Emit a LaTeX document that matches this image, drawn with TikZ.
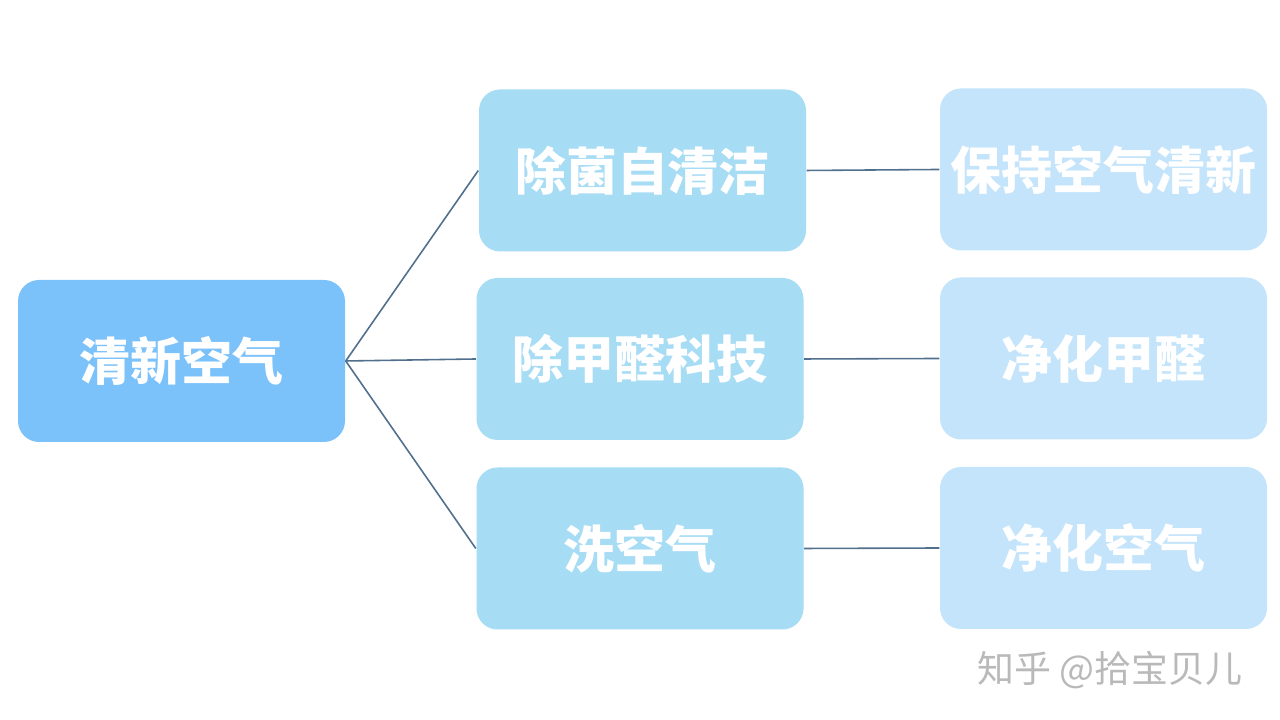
\documentclass[tikz,border=0pt]{standalone}
\usepackage{fontspec}
\newfontfamily\cjk{Noto Sans CJK SC}
\definecolor{rootblue}{RGB}{123, 193, 250}
\definecolor{midblue}{RGB}{167, 220, 245}
\definecolor{leafblue}{RGB}{195, 228, 250}
\definecolor{linkgray}{RGB}{80, 112, 142}
\definecolor{markgray}{RGB}{185, 185, 185}
\usetikzlibrary{positioning}

\begin{document}
\begin{tikzpicture}[
  tbox/.style={rounded corners=6pt, minimum width=3.27cm, minimum height=1.62cm, inner sep=0pt, align=center, text=white, font=\cjk\bfseries\fontsize{14.5}{16}\selectfont},
  rootbox/.style={tbox, fill=rootblue},
  midbox/.style={tbox, fill=midblue},
  leafbox/.style={tbox, fill=leafblue},
  link/.style={draw=linkgray, line width=0.45pt}
]
  \useasboundingbox[fill=white] (0,0) rectangle (12.8,7.2);

  \node[rootbox] (root) at (1.815, 3.59) {清新空气};

  \node[midbox] (mid1) at (6.425, 5.495) {除菌自清洁};
  \node[midbox] (mid2) at (6.40, 3.61) {除甲醛科技};
  \node[midbox] (mid3) at (6.40, 1.715) {洗空气};

  \node[leafbox] (leaf1) at (11.035, 5.505) {保持空气清新};
  \node[leafbox] (leaf2) at (11.035, 3.615) {净化甲醛};
  \node[leafbox] (leaf3) at (11.035, 1.72) {净化空气};

  \draw[link] (root.east) -- (mid1.west);
  \draw[link] (root.east) -- (mid2.west);
  \draw[link] (root.east) -- (mid3.west);
  \draw[link] (mid1.east) -- (leaf1.west);
  \draw[link] (mid2.east) -- (leaf2.west);
  \draw[link] (mid3.east) -- (leaf3.west);

  \node[text=markgray, font=\cjk\fontsize{10.5}{12}\selectfont] (mark) at (11.1, 0.5) {知乎 @拾宝贝儿};
\end{tikzpicture}
\end{document}
